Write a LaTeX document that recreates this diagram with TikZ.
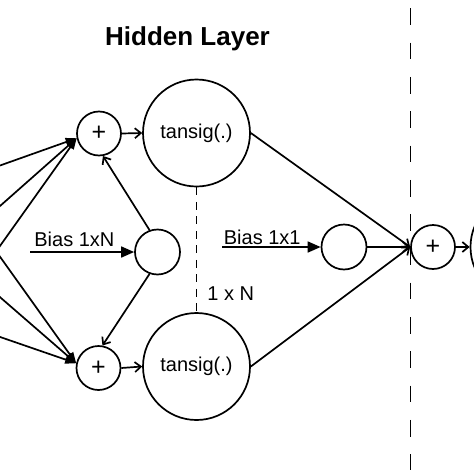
\documentclass[tikz,border=0pt]{standalone}
\usepackage{fontspec}
\setmainfont{Liberation Sans}
\usetikzlibrary{arrows.meta}
\begin{document}
\begin{tikzpicture}[x=1pt,y=-1pt,
  line width=1.7pt,
  nd/.style={draw, circle, inner sep=0pt, line width=1.7pt, font=\fontsize{20}{23}\selectfont},
  plusnode/.style={nd, minimum size=44pt, font=\fontsize{25}{28}\selectfont},
  bignode/.style={nd, minimum size=107pt},
  biasnode/.style={nd, minimum size=45pt},
  lbl/.style={anchor=base west, inner sep=0pt, font=\fontsize{20}{23}\selectfont},
  openarr/.style={-{Straight Barb[length=6pt,width=10pt]}},
  inarr/.style={-{Triangle[length=11pt,width=8pt]}},
  biasarr/.style={-{Triangle[length=13pt,width=11pt]}}
]
\useasboundingbox (0,0) rectangle (474,474);
\fill[white] (0,0) rectangle (474,474);
\clip (0,0) rectangle (474,474);

% title
\node[anchor=base, inner sep=0pt, font=\fontsize{26}{30}\selectfont\bfseries] (title) at (187.5,45) {Hidden Layer};

% nodes
\node[plusnode] (tp) at (99,133.5) {+};
\node[plusnode] (bp) at (98.5,368) {+};
\node[bignode] (tt) at (196.5,133) {tansig(.)};
\node[bignode] (bt) at (196.5,366.5) {tansig(.)};
\node[biasnode] (bn) at (157.5,252) {};
\node[biasnode] (b1) at (344,247) {};
\node[plusnode] (op) at (433,247) {+};
\node[bignode] (out) at (524,247) {};

% input coordinates (off canvas)
\coordinate (in1) at (-52,184);
\coordinate (in2) at (-52,252);
\coordinate (in3) at (-52,319);
\coordinate (bnstart) at (30,252);
\coordinate (b1start) at (222,247);

% input connectors
\foreach \i in {in1,in2,in3} {
  \draw[inarr] (\i) -- (tp.192);
  \draw[inarr] (\i) -- (bp.168);
}

% bias 1xN
\node[lbl] (bnlabel) at (33.5,246.5) {Bias 1xN};
\draw[biasarr] (bnstart) -- (bn.west);
\draw[openarr] (bn.110) -- (tp.-80);
\draw[openarr] (bn.-110) -- (bp.80);

% plus to tansig
\draw[openarr] (tp.east) -- (tt.west);
\draw[openarr] (bp.east) -- (bt.west);

% dashed between tansig
\draw[dash pattern=on 8pt off 6.5pt] (tt.south) -- (bt.north);
\node[lbl] (nlabel) at (206.5,300) {1 x N};

% bias 1x1
\node[lbl] (b1label) at (223,244) {Bias 1x1};
\draw[biasarr] (b1start) -- (b1.west);

% to output plus
\draw[openarr] (tt.east) -- (op.west);
\draw[openarr] (b1.east) -- (op.west);
\draw[openarr] (bt.east) -- (op.west);
\draw[openarr] (op.east) -- (out.west);

% layer separator
\draw[dash pattern=on 16.7pt off 17.6pt] (410.5,8.3) -- (410.5,470);
\end{tikzpicture}
\end{document}
